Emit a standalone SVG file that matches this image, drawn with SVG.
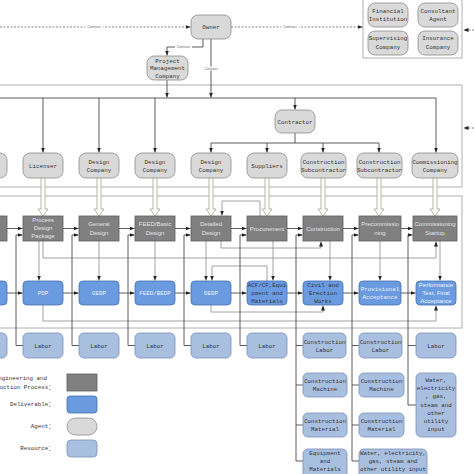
<svg xmlns="http://www.w3.org/2000/svg" width="474" height="474" viewBox="0 0 474 474">
<style>
.ag{fill:#d9d9d9;stroke:#8c8c8c;stroke-width:0.8}
.pr{fill:#808080;stroke:#5c5c5c;stroke-width:0.8}
.dl{fill:#6a9be0;stroke:#4470ad;stroke-width:0.8}
.rs{fill:#a8bfe0;stroke:#7890b8;stroke-width:0.8}
.box{fill:none;stroke:#b0b0b0;stroke-width:1}
.t{font-family:"Liberation Mono","Noto Sans CJK SC",monospace;font-size:5.8px;fill:#333;text-anchor:middle}
.tl{font-family:"Liberation Mono",monospace;font-size:5.8px;fill:#eef3fb;text-anchor:middle}
.ts{font-family:"Liberation Sans",Arial,sans-serif;font-size:6px;fill:#e4e4e4;text-anchor:middle}
.tsl{font-family:"Liberation Sans",Arial,sans-serif;font-size:6px;fill:#eef3fb;text-anchor:middle}
.lg{font-family:"Liberation Mono","Noto Sans CJK SC",monospace;font-size:5.8px;fill:#333;text-anchor:end}
.lbl{font-family:"Liberation Sans",sans-serif;font-size:3.6px;fill:#666;text-anchor:middle}
.c{fill:none;stroke:#333;stroke-width:0.8}
.g{fill:none;stroke:#8a8a8a;stroke-width:0.8}
.d{fill:none;stroke:#666;stroke-width:0.8;stroke-dasharray:2 1.5}
</style>
<defs>
<marker id="ar" markerUnits="userSpaceOnUse" markerWidth="5" markerHeight="4" refX="5" refY="2" orient="auto">
<path d="M0,0 L5,2 L0,4 z" fill="#222"/>
</marker>
<path id="ha" d="M-2,0 V31 H-5 L0,38 L5,31 H2 V0" fill="#fff" stroke="#a3a38c" stroke-width="0.8"/>
</defs>

<!-- frames -->
<rect class="box" x="363" y="-1" width="99" height="59"/>
<rect class="box" x="-1" y="85" width="463" height="102"/>
<rect class="box" x="-1" y="196" width="463" height="132"/>

<!-- hollow arrows -->
<g id="hollow-arrows">
<use href="#ha" x="43" y="178"/>
<use href="#ha" x="99" y="178"/>
<use href="#ha" x="155" y="178"/>
<use href="#ha" x="211" y="178"/>
<use href="#ha" x="267" y="178"/>
<use href="#ha" x="323" y="178"/>
<use href="#ha" x="379" y="178"/>
<use href="#ha" x="435" y="178"/>
</g>

<g id="connectors">
<path class="d" d="M0,27 H190.5" marker-end="url(#ar)"/>
<path class="d" d="M231,27 H362.5" marker-end="url(#ar)"/>
<path class="d" d="M474,30 H463.5" marker-end="url(#ar)"/>
<path class="d" d="M474,128 H463.5" marker-end="url(#ar)"/>
<path class="c" d="M203,39 V47 H167 V55.5" marker-end="url(#ar)"/>
<path class="c" d="M211,39 V97.5" marker-end="url(#ar)"/>
<path class="c" d="M167,80 V97.5" marker-end="url(#ar)"/>
<path class="c" d="M0,98 H436 V152.5" marker-end="url(#ar)"/>
<path class="c" d="M43,98 V152.5" marker-end="url(#ar)"/>
<path class="c" d="M99,98 V152.5" marker-end="url(#ar)"/>
<path class="c" d="M155,98 V152.5" marker-end="url(#ar)"/>
<path class="c" d="M295,98 V109.5" marker-end="url(#ar)"/>
<path class="c" d="M295,133 V143 M211,143 H379"/>
<path class="c" d="M211,143 V152.5" marker-end="url(#ar)"/>
<path class="c" d="M267,143 V152.5" marker-end="url(#ar)"/>
<path class="c" d="M323,143 V152.5" marker-end="url(#ar)"/>
<path class="c" d="M379,143 V152.5" marker-end="url(#ar)"/>
<!-- process sequence -->
<path class="c" d="M7,228.5 H22.5" marker-end="url(#ar)"/>
<path class="c" d="M63,228.5 H78.5" marker-end="url(#ar)"/>
<path class="c" d="M119,228.5 H134.5" marker-end="url(#ar)"/>
<path class="c" d="M175,228.5 H190.5" marker-end="url(#ar)"/>
<path class="c" d="M231,228.5 H246.5" marker-end="url(#ar)"/>
<path class="c" d="M287,228.5 H302.5" marker-end="url(#ar)"/>
<path class="c" d="M343,228.5 H358.5" marker-end="url(#ar)"/>
<path class="c" d="M401,228.5 H412.5" marker-end="url(#ar)"/>
<!-- deliverable sequence -->
<path class="c" d="M7,293 H22.5" marker-end="url(#ar)"/>
<path class="c" d="M63,293 H78.5" marker-end="url(#ar)"/>
<path class="c" d="M119,293 H134.5" marker-end="url(#ar)"/>
<path class="c" d="M175,293 H190.5" marker-end="url(#ar)"/>
<path class="c" d="M231,293 H246.5" marker-end="url(#ar)"/>
<path class="c" d="M287,293 H302.5" marker-end="url(#ar)"/>
<path class="c" d="M343,293 H358.5" marker-end="url(#ar)"/>
<path class="c" d="M401,293 H415.5" marker-end="url(#ar)"/>
<!-- process to deliverable -->
<path class="g" d="M39,241 V280.5" marker-end="url(#ar)"/>
<path class="g" d="M99,241 V280.5" marker-end="url(#ar)"/>
<path class="g" d="M155,241 V280.5" marker-end="url(#ar)"/>
<path class="g" d="M206,241 V280.5" marker-end="url(#ar)"/>
<path class="g" d="M273,241 V280.5" marker-end="url(#ar)"/>
<path class="g" d="M330,241 V280.5" marker-end="url(#ar)"/>
<path class="g" d="M380,241 V280.5" marker-end="url(#ar)"/>
<path class="g" d="M440,241 V280.5" marker-end="url(#ar)"/>
<!-- feedback -->
<path class="g" d="M43,241 V258 H436 V241.5" marker-end="url(#ar)"/>
<path class="g" d="M221,241 V248 H321 V241.5" marker-end="url(#ar)"/>
<path class="g" d="M260,216 V201 H222 V215.5" marker-end="url(#ar)"/>
<path class="g" d="M267,281 V266 H212 V280.5" marker-end="url(#ar)"/>
<path class="g" d="M211,305 V312 H323 V305.5" marker-end="url(#ar)"/>
<path class="g" d="M43,305 V321 H436 V305.5" marker-end="url(#ar)"/>
<!-- resources -->
<path class="c" d="M23,345.5 H16 V235 H22.5" marker-end="url(#ar)"/>
<path class="c" d="M79,345.5 H72 V235 H78.5" marker-end="url(#ar)"/>
<path class="c" d="M135,345.5 H128 V235 H134.5" marker-end="url(#ar)"/>
<path class="c" d="M191,345.5 H184 V235 H190.5" marker-end="url(#ar)"/>
<path class="c" d="M247,345.5 H240 V235 H246.5" marker-end="url(#ar)"/>
<path class="c" d="M303,461 H296 V235 H302.5" marker-end="url(#ar)"/>
<path class="c" d="M296,345.5 H303 M296,385 H303 M296,425 H303"/>
<path class="c" d="M359,461 H352 V235 H358.5" marker-end="url(#ar)"/>
<path class="c" d="M352,345.5 H359 M352,385 H359 M352,425 H359"/>
<path class="c" d="M416,405 H408 V235 H412.5" marker-end="url(#ar)"/>
<path class="c" d="M408,345.5 H416"/>
<!-- labels -->
<rect x="85" y="25" width="18" height="4" fill="#fff"/>
<text class="lbl" x="94" y="28.3">Contract</text>
<rect x="281" y="25" width="18" height="4" fill="#fff"/>
<text class="lbl" x="290" y="28.3">Contract</text>
<rect x="175" y="45" width="17" height="4" fill="#fff"/>
<text class="lbl" x="183.5" y="48.3">Contract</text>
<rect x="202" y="66.5" width="18" height="4" fill="#fff"/>
<text class="lbl" x="211" y="69.8">Contract</text>
</g>

<!-- top -->
<g id="owner"><rect class="ag" x="191" y="15" width="40" height="24" rx="7"/><text class="t" x="211" y="29">Owner</text></g>
<g id="pmc"><rect class="ag" x="147" y="56" width="41" height="24" rx="7"/><text class="t" x="167.5" y="62.5">Project</text><text class="t" x="167.5" y="70">Management</text><text class="t" x="167.5" y="77.5">Company</text></g>
<g id="financial"><rect class="ag" x="368" y="3" width="40" height="24" rx="7"/><text class="t" x="388" y="13">Financial</text><text class="t" x="388" y="21">Institution</text></g>
<g id="consultant"><rect class="ag" x="418" y="3" width="40" height="24" rx="7"/><text class="t" x="438" y="13">Consultant</text><text class="t" x="438" y="21">Agent</text></g>
<g id="supervising"><rect class="ag" x="368" y="31" width="40" height="24" rx="7"/><text class="t" x="388" y="40">Supervising</text><text class="t" x="388" y="48.5">Company</text></g>
<g id="insurance"><rect class="ag" x="418" y="31" width="40" height="24" rx="7"/><text class="t" x="438" y="40">Insurance</text><text class="t" x="438" y="48.5">Company</text></g>
<g id="contractor"><rect class="ag" x="275" y="110" width="40" height="23" rx="7"/><text class="t" x="295" y="123.5">Contractor</text></g>

<!-- agents -->
<g id="agent-left"><rect class="ag" x="-33" y="153" width="40" height="25" rx="7"/></g>
<g id="licenser"><rect class="ag" x="23" y="153" width="40" height="25" rx="7"/><text class="t" x="43" y="167.5">Licenser</text></g>
<g id="design1"><rect class="ag" x="79" y="153" width="40" height="25" rx="7"/><text class="t" x="99" y="163.8">Design</text><text class="t" x="99" y="171.8">Company</text></g>
<g id="design2"><rect class="ag" x="135" y="153" width="40" height="25" rx="7"/><text class="t" x="155" y="163.8">Design</text><text class="t" x="155" y="171.8">Company</text></g>
<g id="design3"><rect class="ag" x="191" y="153" width="40" height="25" rx="7"/><text class="t" x="211" y="163.8">Design</text><text class="t" x="211" y="171.8">Company</text></g>
<g id="suppliers"><rect class="ag" x="247" y="153" width="40" height="25" rx="7"/><text class="t" x="267" y="167.5">Suppliers</text></g>
<g id="csub1"><rect class="ag" x="301" y="153" width="45" height="25" rx="7"/><text class="t" x="323.5" y="163.8">Construction</text><text class="t" x="323.5" y="171.8">Subcontractor</text></g>
<g id="csub2"><rect class="ag" x="357" y="153" width="45" height="25" rx="7"/><text class="t" x="379.5" y="163.8">Construction</text><text class="t" x="379.5" y="171.8">Subcontractor</text></g>
<g id="commco"><rect class="ag" x="412" y="153" width="46" height="25" rx="7"/><text class="t" x="435" y="163.8">Commissioning</text><text class="t" x="435" y="171.8">Company</text></g>

<!-- processes -->
<g id="proc-left"><rect class="pr" x="-33" y="216" width="40" height="25"/></g>
<g id="pdp-proc"><rect class="pr" x="23" y="216" width="40" height="25"/><text class="ts" x="43" y="222">Process</text><text class="ts" x="43" y="230">Design</text><text class="ts" x="43" y="238.3">Package</text></g>
<g id="general"><rect class="pr" x="79" y="216" width="40" height="25"/><text class="ts" x="99" y="226">General</text><text class="ts" x="99" y="234.5">Design</text></g>
<g id="feed"><rect class="pr" x="135" y="216" width="40" height="25"/><text class="ts" x="155" y="226">FEED/Basic</text><text class="ts" x="155" y="234.5">Design</text></g>
<g id="detailed"><rect class="pr" x="191" y="216" width="40" height="25"/><text class="ts" x="211" y="226">Detailed</text><text class="ts" x="211" y="234.5">Design</text></g>
<g id="procurement"><rect class="pr" x="247" y="216" width="40" height="25"/><text class="ts" x="267" y="230.5">Procurement</text></g>
<g id="construction"><rect class="pr" x="303" y="216" width="40" height="25"/><text class="ts" x="323" y="230.5">Construction</text></g>
<g id="precomm"><rect class="pr" x="359" y="216" width="42" height="25"/><text class="ts" x="380" y="226">Precommissio</text><text class="ts" x="380" y="234.5">ning</text></g>
<g id="commissioning"><rect class="pr" x="413" y="216" width="44" height="25"/><text class="ts" x="435" y="226">Commissioning</text><text class="ts" x="435" y="234.5">Startup</text></g>

<!-- deliverables -->
<g id="del-left"><rect class="dl" x="-33" y="281" width="40" height="24" rx="4"/></g>
<g id="pdp"><rect class="dl" x="23" y="281" width="40" height="24" rx="4"/><text class="tl" x="43" y="295">PDP</text></g>
<g id="gedp"><rect class="dl" x="79" y="281" width="40" height="24" rx="4"/><text class="tl" x="99" y="295">GEDP</text></g>
<g id="bedp"><rect class="dl" x="135" y="281" width="40" height="24" rx="4"/><text class="tl" x="155" y="295">FEED/BEDP</text></g>
<g id="dedp"><rect class="dl" x="191" y="281" width="40" height="24" rx="4"/><text class="tl" x="211" y="295">DEDP</text></g>
<g id="acf"><rect class="dl" x="247" y="281" width="40" height="24" rx="4"/><text class="t" x="267" y="286.8">ACF/CF,Equi</text><text class="t" x="267" y="294.8">pment and</text><text class="t" x="267" y="302.8">Materials</text></g>
<g id="civil"><rect class="dl" x="303" y="281" width="40" height="24" rx="4"/><text class="t" x="323" y="286.8">Civil and</text><text class="t" x="323" y="294.8">Erection</text><text class="t" x="323" y="302.8">Works</text></g>
<g id="provisional"><rect class="dl" x="359" y="281" width="42" height="24" rx="4"/><text class="tl" x="380" y="291">Provisional</text><text class="tl" x="380" y="299">Acceptance</text></g>
<g id="performance"><rect class="dl" x="416" y="281" width="40" height="24" rx="4"/><text class="tsl" x="436" y="287">Performance</text><text class="tsl" x="436" y="295">Test, Final</text><text class="tsl" x="436" y="303">Acceptance</text></g>

<!-- resources -->
<g id="res-left"><rect class="rs" x="-33" y="333" width="40" height="25" rx="5"/></g>
<g id="labor1"><rect class="rs" x="23" y="333" width="40" height="25" rx="5"/><text class="t" x="43" y="347.5">Labor</text></g>
<g id="labor2"><rect class="rs" x="79" y="333" width="40" height="25" rx="5"/><text class="t" x="99" y="347.5">Labor</text></g>
<g id="labor3"><rect class="rs" x="135" y="333" width="40" height="25" rx="5"/><text class="t" x="155" y="347.5">Labor</text></g>
<g id="labor4"><rect class="rs" x="191" y="333" width="40" height="25" rx="5"/><text class="t" x="211" y="347.5">Labor</text></g>
<g id="labor5"><rect class="rs" x="247" y="333" width="40" height="25" rx="5"/><text class="t" x="267" y="347.5">Labor</text></g>
<g id="clabor1"><rect class="rs" x="303" y="333" width="43" height="25" rx="5"/><text class="t" x="324.5" y="343.8">Construction</text><text class="t" x="324.5" y="351.8">Labor</text></g>
<g id="clabor2"><rect class="rs" x="359" y="333" width="43" height="25" rx="5"/><text class="t" x="380.5" y="343.8">Construction</text><text class="t" x="380.5" y="351.8">Labor</text></g>
<g id="labor8"><rect class="rs" x="416" y="333" width="40" height="25" rx="5"/><text class="t" x="436" y="347.5">Labor</text></g>
<g id="cmachine1"><rect class="rs" x="303" y="373" width="44" height="24" rx="5"/><text class="t" x="325" y="383.3">Construction</text><text class="t" x="325" y="391.3">Machine</text></g>
<g id="cmaterial1"><rect class="rs" x="303" y="413" width="44" height="24" rx="5"/><text class="t" x="325" y="423.3">Construction</text><text class="t" x="325" y="431.3">Material</text></g>
<g id="equip"><rect class="rs" x="303" y="449" width="44" height="30" rx="5"/><text class="t" x="325" y="455">Equipment</text><text class="t" x="325" y="463">and</text><text class="t" x="325" y="471">Materials</text></g>
<g id="cmachine2"><rect class="rs" x="359" y="373" width="45" height="24" rx="5"/><text class="t" x="381.5" y="383.3">Construction</text><text class="t" x="381.5" y="391.3">Machine</text></g>
<g id="cmaterial2"><rect class="rs" x="359" y="413" width="45" height="24" rx="5"/><text class="t" x="381.5" y="423.3">Construction</text><text class="t" x="381.5" y="431.3">Material</text></g>
<g id="utility2"><rect class="rs" x="359" y="449" width="68" height="30" rx="5"/><text class="t" x="393" y="455">Water, electricity,</text><text class="t" x="393" y="463">gas, steam and</text><text class="t" x="393" y="471">other utility input</text></g>
<g id="utility1"><rect class="rs" x="416" y="373" width="40" height="64" rx="5"/><text class="t" x="436" y="382">Water,</text><text class="t" x="436" y="390.2">electricity</text><text class="t" x="436" y="398.4">, gas,</text><text class="t" x="436" y="406.6">steam and</text><text class="t" x="436" y="414.8">other</text><text class="t" x="436" y="423">utility</text><text class="t" x="436" y="431.2">input</text></g>

<!-- legend -->
<g id="legend">
<text class="lg" x="47" y="380">Engineering and</text>
<text class="lg" x="54" y="389">Construction Process：</text>
<rect class="pr" x="67" y="374" width="30" height="17"/>
<text class="lg" x="54" y="406">Deliverable：</text>
<rect class="dl" x="67" y="396" width="30" height="17" rx="3"/>
<text class="lg" x="54" y="428">Agent：</text>
<rect class="ag" x="67" y="418" width="30" height="17" rx="8.5"/>
<text class="lg" x="54" y="450">Resource：</text>
<rect class="rs" x="67" y="440" width="30" height="17" rx="4"/>
</g>
</svg>
